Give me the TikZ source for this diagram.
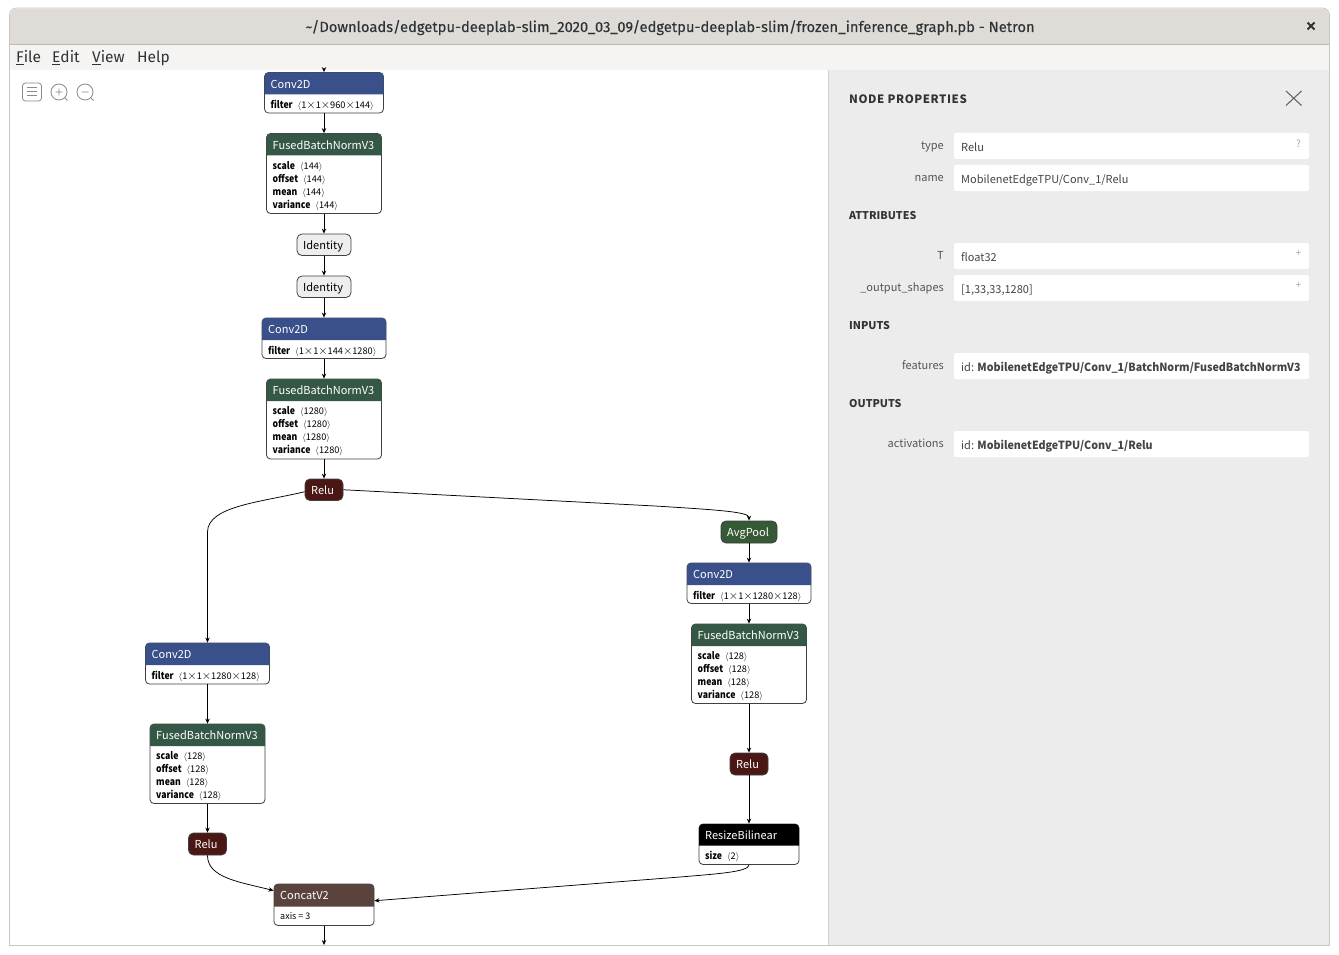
\documentclass[tikz,border=0pt]{standalone}
\usepackage{fontspec}
\setmainfont{Noto Sans CJK SC}
\newfontfamily\uif{Fira Sans}
\newfontfamily\uift[FakeBold=0.2]{Fira Sans}
\newfontfamily\headf[LetterSpace=5]{Noto Sans CJK SC}
\newfontfamily\nbold[FakeStretch=0.87]{Noto Sans CJK SC}
\newfontfamily\pbold[FakeStretch=0.95]{Noto Sans CJK SC}
\usetikzlibrary{arrows.meta}
\definecolor{cblue}{HTML}{39508A}
\definecolor{cgreen}{HTML}{355745}
\definecolor{cgreenb}{HTML}{365A35}
\definecolor{cred}{HTML}{4A1714}
\definecolor{cbrown}{HTML}{5A433D}
\definecolor{cblack}{HTML}{000000}
\definecolor{cident}{HTML}{EEEEEE}
\definecolor{uitext}{HTML}{2E3436}
\definecolor{lbl}{HTML}{555555}
\definecolor{val}{HTML}{444444}
\definecolor{ico}{HTML}{8A8A8A}
\definecolor{wintitle}{HTML}{DFDBD6}
\definecolor{winmenu}{HTML}{F5F4F2}
\definecolor{winline}{HTML}{BDB8B2}
\definecolor{panelbg}{HTML}{ECECEC}
\tikzset{
  x=1pt,y=-1pt,
  box/.style={draw=black!75,line width=0.8pt,rounded corners=4pt,inner sep=0pt,fill=white},
  edge/.style={draw=black,line width=0.75pt,-{Stealth[length=5pt,width=4.4pt]}},
  htext/.style={anchor=base west,inner sep=0pt,text=white,font=\fontsize{11}{13}\selectfont},
  btext/.style={anchor=north west,inner sep=0pt,align=left,text=black,font=\fontsize{10}{13}\selectfont},
  lab/.style={anchor=base east,inner sep=0pt,text=lbl,font=\fontsize{11}{13}\selectfont},
  vtxt/.style={anchor=base west,inner sep=0pt,text=val,font=\fontsize{11}{13}\selectfont},
  heading/.style={anchor=base west,inner sep=0pt,text=black!80,font=\fontsize{10.7}{13}\selectfont\bfseries},
  field/.style={fill=white,rounded corners=2pt,inner sep=0pt,minimum width=355pt,minimum height=26pt},
  marker/.style={inner sep=0pt,text=black!35,font=\fontsize{10}{12}\selectfont},
  menu/.style={anchor=base west,inner sep=0pt,text=uitext,font=\uif\fontsize{15.5}{18}\selectfont},
  icon/.style={draw=ico,line width=0.8pt},
}
% name, x1, y1, x2, split, y2, colour, header, body
\newcommand{\gnode}[9]{%
  \node[box,minimum width={(#4)-(#2)},minimum height={(#6)-(#3)}] (#1) at ({((#2)+(#4))/2},{((#3)+(#6))/2}) {};
  \fill[#7] (#2,#5) [rounded corners=4pt] -- (#2,#3) -- (#4,#3) [sharp corners] -- (#4,#5) -- cycle;
  \node[htext] (#1-h) at ({(#2)+6},{(#3)+15.8}) {#8};
  \node[btext] (#1-b) at ({(#2)+6},{(#5)+5.8}) {#9};
}
% name, x1, y1, x2, y2, fill, text colour, label
\newcommand{\pill}[8]{%
  \node[box,fill=#6,minimum width={(#4)-(#2)},minimum height={(#5)-(#3)},rounded corners=5pt] (#1) at ({((#2)+(#4))/2},{((#3)+(#5))/2}) {};
  \node[htext,text=#7] (#1-h) at ({(#2)+6},{(#3)+15.5}) {#8};
}
\newcommand{\ab}[1]{{\nbold\bfseries #1}}
\newcommand{\pb}[1]{{\pbold\bfseries\fontsize{11.25}{13}\selectfont #1}}
\newcommand{\dm}[1]{\kern5pt{\fontsize{9.2}{13}\selectfont$\langle$#1$\rangle$}}
\newcommand{\X}{{\fontsize{12}{13}\selectfont$\times$}}
\begin{document}
\begin{tikzpicture}
\useasboundingbox (0,0) rectangle (1339,955);
\fill[white] (0,0) rectangle (1339,955);
% window
\draw[fill=white,draw=black!22,line width=0.8pt] (9.5,945.5) -- (9.5,40) [rounded corners=7pt] -- (9.5,8) -- (1329.5,8) [sharp corners] -- (1329.5,40) -- (1329.5,945.5) -- cycle;
\fill[wintitle] (10,44) -- (10,30) [rounded corners=7pt] -- (10,8.5) -- (1329,8.5) [sharp corners] -- (1329,44) -- cycle;
\fill[winmenu] (10,44.5) rectangle (1329,70);
\draw[winline,line width=0.7pt] (10,44.5) -- (1329,44.5);
\fill[panelbg] (828.5,70) rectangle (1329,945);
\draw[draw=black!18,line width=0.7pt] (828.5,70) -- (828.5,945);
% title and menu
\node[anchor=base,inner sep=0pt,text=uitext,font=\uift\fontsize{14.75}{18}\selectfont] (title) at (670,32) {\textasciitilde/Downloads/edgetpu-deeplab-slim\_2020\_03\_09/edgetpu-deeplab-slim/frozen\_inference\_graph.pb - Netron};
\draw[uitext,line width=1.8pt] (1307.5,22.5) -- (1314.5,29.5) (1314.5,22.5) -- (1307.5,29.5);
\node[menu] (mfile) at (16,63) {\underline{F}ile};
\node[menu] (medit) at (52,63) {\underline{E}dit};
\node[menu] (mview) at (92,63) {\underline{V}iew};
\node[menu] (mhelp) at (137,63) {Help};
% zoom icons
\draw[icon,rounded corners=3pt] (22.5,83) rectangle (41.5,101);
\draw[icon] (27,87.5) -- (37,87.5) (27,91.5) -- (37,91.5) (27,95.5) -- (37,95.5);
\draw[icon] (59,92) circle (8);
\draw[icon] (65,98) -- (67.5,100.5) (55.5,92) -- (62.5,92) (59,88.5) -- (59,95.5);
\draw[icon] (85,92) circle (8);
\draw[icon] (91,98) -- (93.5,100.5) (81.5,92) -- (88.5,92);
% graph nodes
\gnode{conva}{264.5}{72.5}{383.5}{94.5}{113}{cblue}{Conv2D}{\ab{filter}\dm{1\X1\X960\X144}}
\gnode{fbna}{266.5}{133.5}{381.5}{155.5}{213.5}{cgreen}{FusedBatchNormV3}{\ab{scale}\dm{144}\\\ab{offset}\dm{144}\\\ab{mean}\dm{144}\\\ab{variance}\dm{144}}
\pill{ida}{297}{234}{351}{255.5}{cident}{black}{Identity}
\pill{idb}{297}{276}{351}{297.5}{cident}{black}{Identity}
\gnode{convb}{262}{318}{386}{340}{358.5}{cblue}{Conv2D}{\ab{filter}\dm{1\X1\X144\X1280}}
\gnode{fbnb}{266.5}{379}{381.5}{401}{459}{cgreen}{FusedBatchNormV3}{\ab{scale}\dm{1280}\\\ab{offset}\dm{1280}\\\ab{mean}\dm{1280}\\\ab{variance}\dm{1280}}
\pill{relua}{305}{479}{343}{500.5}{cred}{white}{Relu}
\pill{avg}{721}{521}{777}{543}{cgreenb}{white}{AvgPool}
\gnode{convr}{687}{563}{811}{585}{603.5}{cblue}{Conv2D}{\ab{filter}\dm{1\X1\X1280\X128}}
\gnode{fbnr}{691.5}{624}{806.5}{646}{703.5}{cgreen}{FusedBatchNormV3}{\ab{scale}\dm{128}\\\ab{offset}\dm{128}\\\ab{mean}\dm{128}\\\ab{variance}\dm{128}}
\pill{relur}{730}{753}{768}{775}{cred}{white}{Relu}
\gnode{resize}{699}{824}{799}{845.5}{864.5}{cblack}{ResizeBilinear}{\ab{size}\dm{2}}
\gnode{convl}{145.5}{643}{269.5}{665}{684}{cblue}{Conv2D}{\ab{filter}\dm{1\X1\X1280\X128}}
\gnode{fbnl}{150}{724}{265}{746}{803.5}{cgreen}{FusedBatchNormV3}{\ab{scale}\dm{128}\\\ab{offset}\dm{128}\\\ab{mean}\dm{128}\\\ab{variance}\dm{128}}
\pill{relul}{188.5}{833}{226.5}{855}{cred}{white}{Relu}
\gnode{concat}{274}{884}{374}{906.5}{925.5}{cbrown}{ConcatV2}{{\fontsize{9}{13}\selectfont axis = 3}}
% free ends
\coordinate (topin) at (324,70);
\coordinate (botout) at (324,945);
% edges
\draw[edge] (topin) -- (conva.north);
\draw[edge] (conva.south) -- (fbna.north);
\draw[edge] (fbna.south) -- (ida.north);
\draw[edge] (ida.south) -- (idb.north);
\draw[edge] (idb.south) -- (convb.north);
\draw[edge] (convb.south) -- (fbnb.north);
\draw[edge] (fbnb.south) -- (relua.north);
\draw[edge] ([yshift=-2pt]relua.west) .. controls (262,502) and (207.5,506) .. (207.5,532) -- (convl.north);
\draw[edge] (relua.east) -- (655,506) .. controls (720,510) and (749,512) .. (avg.north);
\draw[edge] (avg.south) -- (convr.north);
\draw[edge] (convr.south) -- (fbnr.north);
\draw[edge] (fbnr.south) -- (relur.north);
\draw[edge] (relur.south) -- (resize.north);
\draw[edge] (convl.south) -- (fbnl.north);
\draw[edge] (fbnl.south) -- (relul.north);
\draw[edge] (relul.south) .. controls (207.5,878) and (240,882) .. ([yshift=-7pt]concat.north west);
\draw[edge] (resize.south) .. controls (749,872) and (715,874) .. (680,877) -- ([yshift=4pt]concat.east);
\draw[edge] (concat.south) -- (botout);
% properties panel
\node[heading,font=\headf\fontsize{11.5}{13}\selectfont\bfseries] (hprops) at (849,104) {NODE PROPERTIES};
\draw[black!60,line width=1.1pt] (1286,91) -- (1301.5,105.5) (1301.5,91) -- (1286,105.5);
\node[heading] (hattr) at (849,219.5) {ATTRIBUTES};
\node[heading] (hin) at (849,329.5) {INPUTS};
\node[heading] (hout) at (849,407.5) {OUTPUTS};
\node[field] (ftype) at (1131.5,146) {};
\node[field] (fname) at (1131.5,178) {};
\node[field] (ft) at (1131.5,256) {};
\node[field] (fshape) at (1131.5,288) {};
\node[field] (ffeat) at (1131.5,366) {};
\node[field] (fact) at (1131.5,444) {};
\node[lab] (ltype) at (944,149.5) {type};
\node[lab] (lname) at (944,181.5) {name};
\node[lab] (lt) at (944,259.5) {T};
\node[lab] (lshape) at (944,291.5) {\_output\_shapes};
\node[lab] (lfeat) at (944,369.5) {features};
\node[lab] (lact) at (944,447.5) {activations};
\node[vtxt] (vtype) at (961,151.5) {Relu};
\node[vtxt] (vname) at (961,183) {MobilenetEdgeTPU/Conv\_1/Relu};
\node[vtxt] (vt) at (961,261) {float32};
\node[vtxt] (vshape) at (961,293) {[1,33,33,1280]};
\node[vtxt] (vfeat) at (961,371) {id: \pb{MobilenetEdgeTPU/Conv\_1/BatchNorm/FusedBatchNormV3}};
\node[vtxt] (vact) at (961,449) {id: \pb{MobilenetEdgeTPU/Conv\_1/Relu}};
\node[marker] (mtype) at (1298.5,143.5) {?};
\node[marker] (mt) at (1298.5,253.5) {+};
\node[marker] (mshape) at (1298.5,285.5) {+};
\end{tikzpicture}
\end{document}
